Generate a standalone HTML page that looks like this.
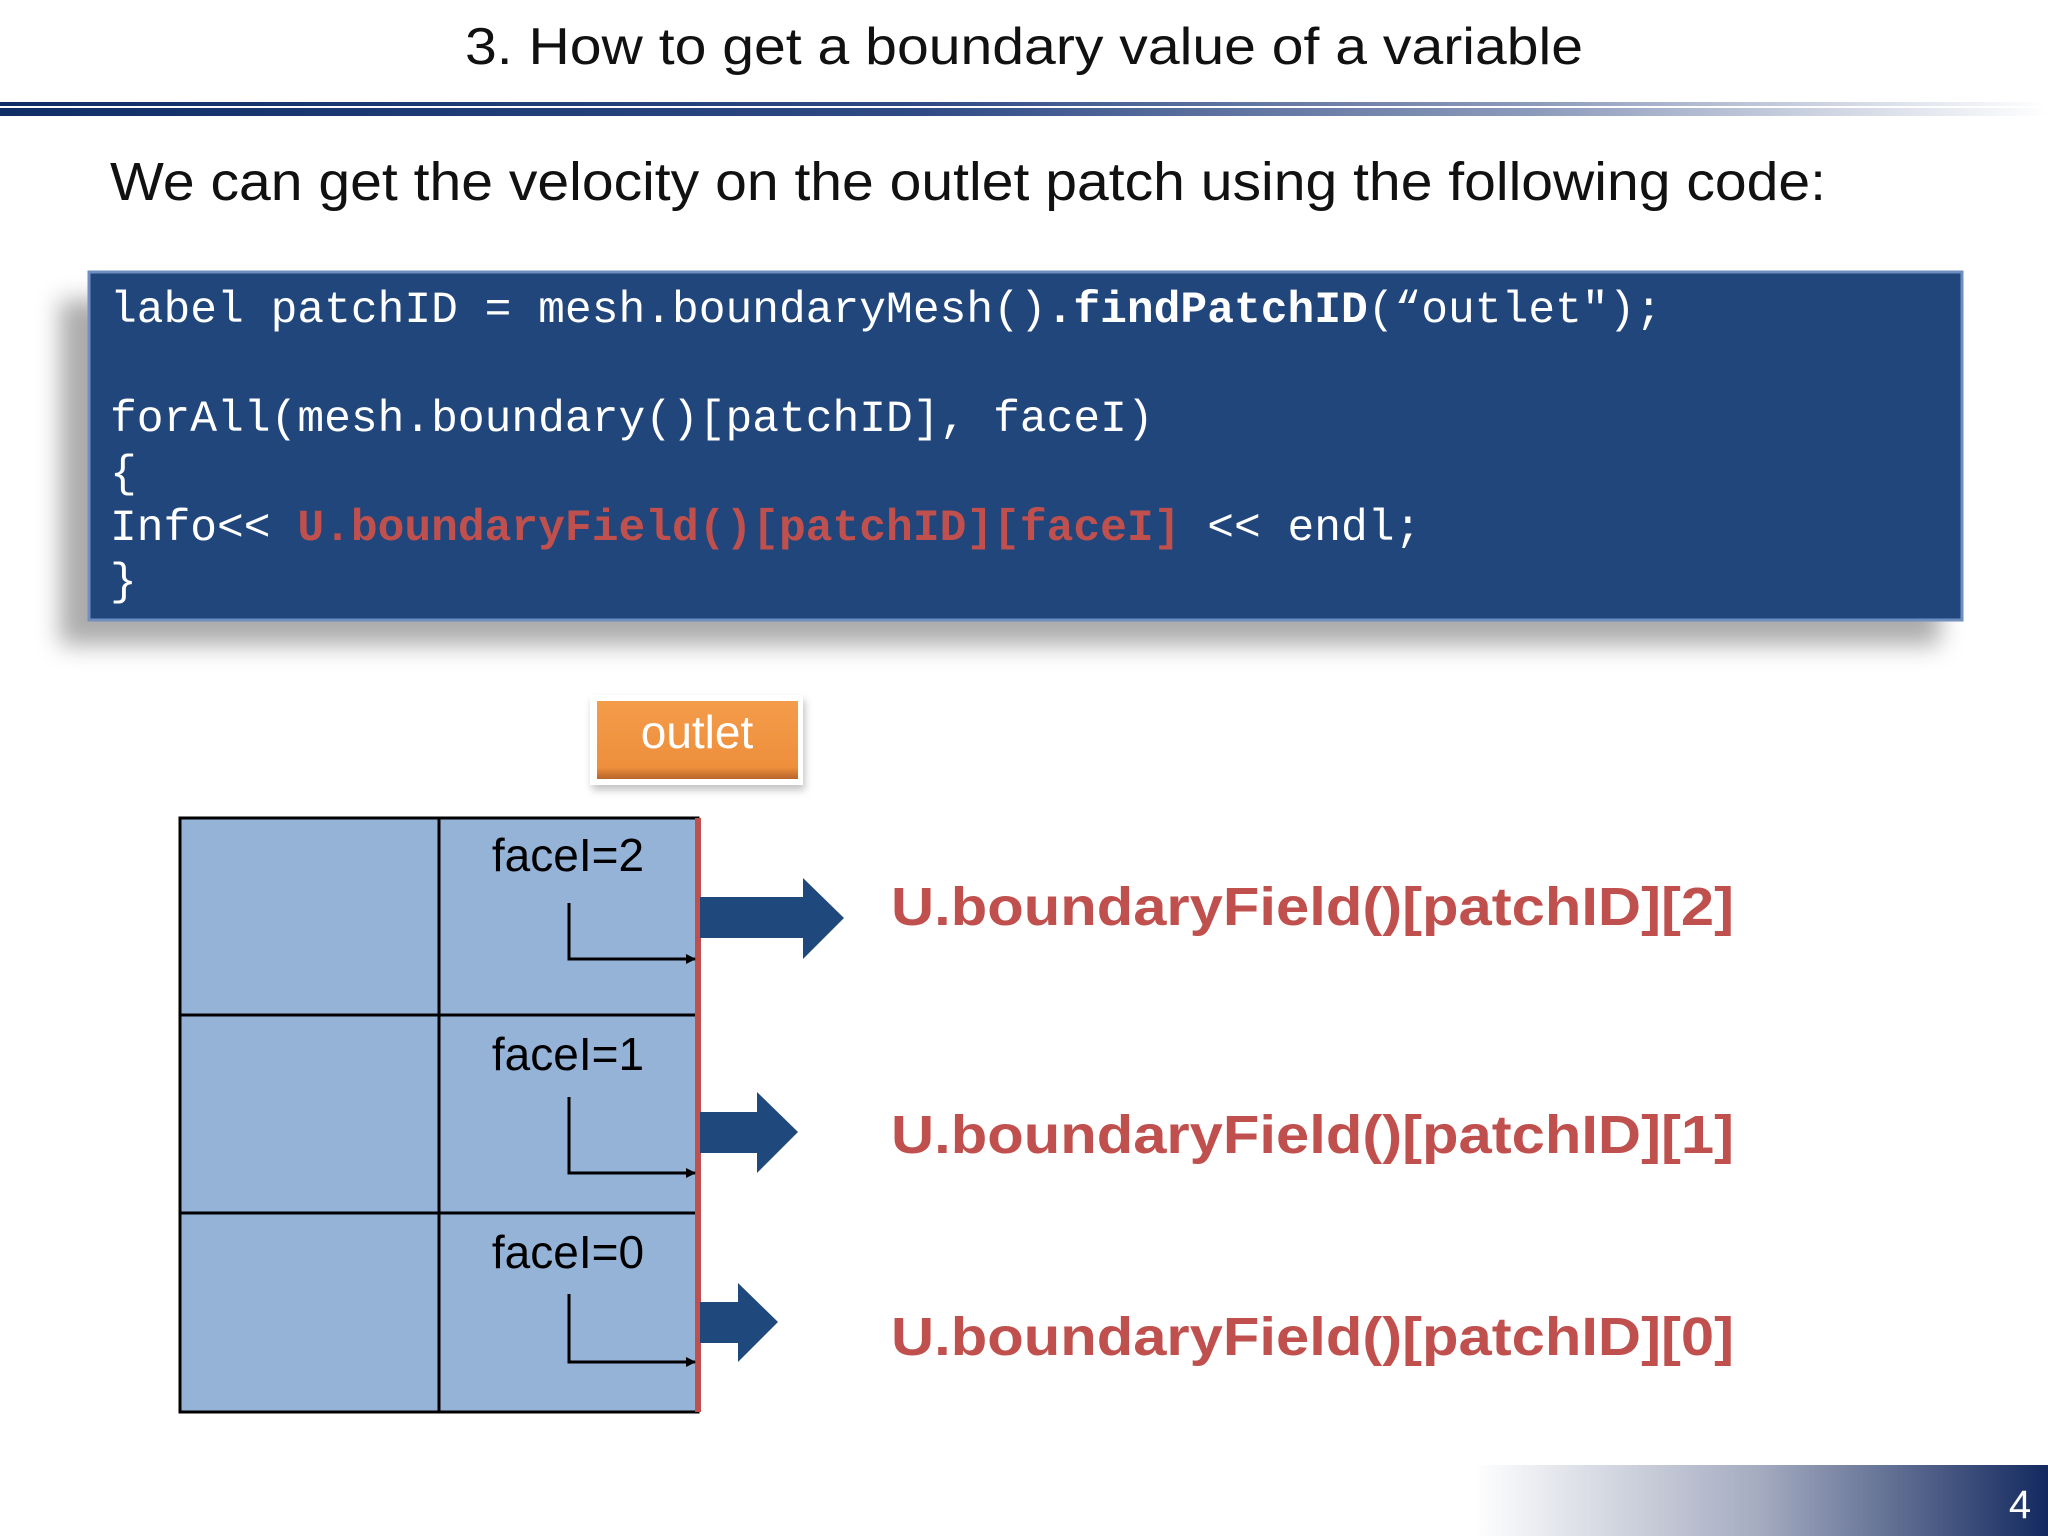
<!DOCTYPE html>
<html><head><meta charset="utf-8"><style>
html,body{margin:0;padding:0;background:#fff;}
svg{display:block;}
</style></head><body>
<svg width="2048" height="1536" viewBox="0 0 2048 1536" xmlns="http://www.w3.org/2000/svg">
<defs>
<linearGradient id="hb" x1="0" x2="1" y1="0" y2="0">
<stop offset="0" stop-color="#0f2d66"/><stop offset="0.45" stop-color="#2f4a85"/><stop offset="0.75" stop-color="#8d9bbb"/><stop offset="1" stop-color="#ffffff"/>
</linearGradient>
<linearGradient id="fb" x1="0" x2="1" y1="0" y2="0">
<stop offset="0" stop-color="#ffffff"/><stop offset="0.5" stop-color="#a4abc0"/><stop offset="1" stop-color="#13295f"/>
</linearGradient>
<linearGradient id="og" x1="0" x2="0" y1="0" y2="1">
<stop offset="0" stop-color="#f39c4a"/><stop offset="0.85" stop-color="#ee8f3c"/><stop offset="1" stop-color="#b8642a"/>
</linearGradient>
<filter id="sh" x="-10%" y="-10%" width="120%" height="140%"><feGaussianBlur stdDeviation="12"/></filter>
<filter id="sh2" x="-20%" y="-20%" width="140%" height="160%"><feGaussianBlur stdDeviation="4"/></filter>
<marker id="ah" markerWidth="10" markerHeight="10" refX="9" refY="5" orient="auto" markerUnits="userSpaceOnUse"><path d="M0,0 L10,5 L0,10 z" fill="#000"/></marker>
</defs>

<!-- title -->
<text x="1024" y="64" text-anchor="middle" font-family="Liberation Sans, sans-serif" font-size="52" fill="#111" textLength="1118" lengthAdjust="spacingAndGlyphs">3. How to get a boundary value of a variable</text>
<rect x="0" y="102" width="2048" height="4" fill="url(#hb)"/>
<rect x="0" y="108" width="2048" height="8" fill="url(#hb)"/>

<!-- subtitle -->
<text x="110" y="200" font-family="Liberation Sans, sans-serif" font-size="54" fill="#111" textLength="1716" lengthAdjust="spacingAndGlyphs">We can get the velocity on the outlet patch using the following code:</text>

<!-- code box -->
<rect x="60" y="300" width="1880" height="345" fill="#888" opacity="0.7" filter="url(#sh)"/>
<rect x="89" y="272" width="1873" height="348" fill="#21467b" stroke="#6f8fc0" stroke-width="3"/>
<g font-family="Liberation Mono, monospace" font-size="44.6" fill="#fff" xml:space="preserve">
<text x="110" y="322">label patchID = mesh.boundaryMesh()<tspan font-weight="bold">.findPatchID</tspan>(“outlet");</text>
<text x="110" y="431">forAll(mesh.boundary()[patchID], faceI)</text>
<text x="110" y="486">{</text>
<text x="110" y="540">    Info&lt;&lt; <tspan fill="#c0504d" font-weight="bold">U.boundaryField()[patchID][faceI]</tspan> &lt;&lt; endl;</text>
<text x="110" y="594">}</text>
</g>

<!-- outlet label -->
<rect x="592" y="700" width="213" height="90" fill="#999" opacity="0.6" filter="url(#sh2)"/>
<rect x="590" y="695" width="213" height="90" fill="#fff"/>
<rect x="597" y="701" width="201" height="78" fill="url(#og)"/>
<text x="697" y="748" text-anchor="middle" font-family="Liberation Sans, sans-serif" font-size="46" fill="#fff">outlet</text>

<!-- grid -->
<rect x="180" y="818" width="518" height="594" fill="#95b3d7" stroke="#000" stroke-width="3"/>
<line x1="439" y1="818" x2="439" y2="1412" stroke="#000" stroke-width="3"/>
<line x1="180" y1="1015" x2="697" y2="1015" stroke="#000" stroke-width="3"/>
<line x1="180" y1="1213" x2="697" y2="1213" stroke="#000" stroke-width="3"/>
<line x1="698" y1="818" x2="698" y2="1412" stroke="#c0504d" stroke-width="6"/>

<g font-family="Liberation Sans, sans-serif" font-size="46" fill="#000" text-anchor="middle">
<text x="568" y="871">faceI=2</text>
<text x="568" y="1070">faceI=1</text>
<text x="568" y="1268">faceI=0</text>
</g>
<g stroke="#000" stroke-width="3" fill="none" marker-end="url(#ah)">
<path d="M569,903 V959 H695"/>
<path d="M569,1097 V1173 H695"/>
<path d="M569,1294 V1362 H695"/>
</g>

<!-- big arrows -->
<g fill="#1f497d">
<path d="M700,897 H803 V878 L844,918 L803,959 V938 H700 z"/>
<path d="M700,1112 H757 V1092 L798,1132 L757,1173 V1153 H700 z"/>
<path d="M700,1302 H738 V1283 L778,1322 L738,1362 V1343 H700 z"/>
</g>

<g font-family="Liberation Sans, sans-serif" font-size="54" font-weight="bold" fill="#c0504d">
<text x="891" y="925" textLength="843" lengthAdjust="spacingAndGlyphs">U.boundaryField()[patchID][2]</text>
<text x="891" y="1153" textLength="843" lengthAdjust="spacingAndGlyphs">U.boundaryField()[patchID][1]</text>
<text x="891" y="1355" textLength="843" lengthAdjust="spacingAndGlyphs">U.boundaryField()[patchID][0]</text>
</g>

<!-- footer -->
<rect x="1474" y="1465" width="574" height="71" fill="url(#fb)"/>
<text x="2020" y="1518" text-anchor="middle" font-family="Liberation Sans, sans-serif" font-size="40" fill="#fff">4</text>
</svg>
</body></html>
